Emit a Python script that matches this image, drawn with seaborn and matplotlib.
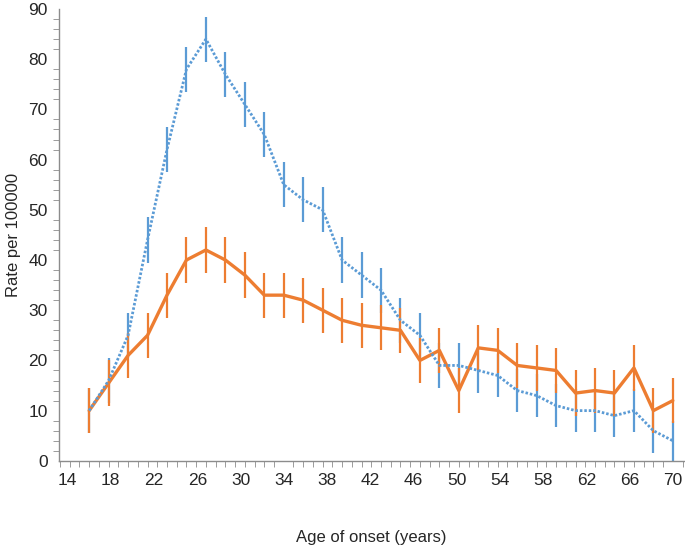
import matplotlib
matplotlib.use("Agg")
import matplotlib.pyplot as plt
import numpy as np
import pandas as pd
import seaborn as sns
from matplotlib.ticker import FixedLocator, MultipleLocator

# age of onset (points are 1.8 years apart)
ages = [16.0, 17.8, 19.6, 21.4, 23.2, 25.0, 26.8, 28.6, 30.4, 32.2, 34.0,
        35.8, 37.6, 39.4, 41.2, 43.0, 44.8, 46.6, 48.4, 50.2, 52.0, 53.8,
        55.6, 57.4, 59.2, 61.0, 62.8, 64.6, 66.4, 68.2, 70.0]

# blue dotted series
blue_rate = [10, 16, 25, 44, 62, 78, 84, 77, 71, 65, 55, 52, 50, 40, 37, 34,
             28, 25, 19, 19, 18, 17, 14, 13, 11, 10, 10, 9, 10, 6, 4]
blue_err = [4.5, 4.5, 4.5, 4.5, 4.5, 4.5, 4.5, 4.5, 4.5, 4.5, 4.5, 4.5, 4.5,
            4.5, 4.5, 4.5, 4.5, 4.5, 4.5, 4.5, 4.5, 4.3, 4.3, 4.3, 4.3, 4.3,
            4.3, 4.3, 4.3, 4.5, 4.0]

# orange solid series
orange_rate = [10, 15.5, 21, 25, 33, 40, 42, 40, 37, 33, 33, 32, 30, 28, 27,
               26.5, 26, 20, 22, 14, 22.5, 22, 19, 18.5, 18, 13.5, 14, 13.5,
               18.5, 10, 12]
orange_err = [4.5, 4.5, 4.5, 4.5, 4.5, 4.5, 4.5, 4.5, 4.5, 4.5, 4.5, 4.5,
              4.5, 4.5, 4.5, 4.5, 4.5, 4.5, 4.5, 4.5, 4.5, 4.5, 4.5, 4.5,
              4.5, 4.5, 4.5, 4.5, 4.5, 4.5, 4.5]

x_labels = [14, 18, 22, 26, 30, 34, 38, 42, 46, 50, 54, 58, 62, 66, 70]

BLUE = "#5B9BD5"
ORANGE = "#ED7D31"

sns.set_style("white")
plt.rcParams["font.family"] = ["Liberation Sans", "DejaVu Sans"]

df = pd.DataFrame({"age": ages, "blue": blue_rate, "orange": orange_rate})

fig = plt.figure(figsize=(6.85, 5.46), dpi=100)
ax = fig.add_axes([0.086, 0.156, 0.912, 0.8275])

ax.errorbar(ages, blue_rate, yerr=blue_err, fmt="none", ecolor=BLUE,
            elinewidth=1.6, capsize=0, zorder=2)
ax.errorbar(ages, orange_rate, yerr=orange_err, fmt="none", ecolor=ORANGE,
            elinewidth=1.6, capsize=0, zorder=3)
sns.lineplot(data=df, x="age", y="orange", ax=ax, color=ORANGE,
             linewidth=2.4, zorder=4)
sns.lineplot(data=df, x="age", y="blue", ax=ax, color=BLUE,
             linewidth=2.0, linestyle=(0, (0.9, 0.7)), zorder=5)

ax.set_xlim(13.2, 71.0)
ax.set_ylim(0, 90)
ax.set_xticks(x_labels)
ax.set_xticklabels([str(v) for v in x_labels])
ax.xaxis.set_minor_locator(FixedLocator(np.arange(13.3, 71.0, 0.9)))
ax.set_yticks(range(0, 91, 10))
ax.yaxis.set_minor_locator(MultipleLocator(2))

for side in ["top", "right"]:
    ax.spines[side].set_visible(False)
for side in ["left", "bottom"]:
    ax.spines[side].set_color("#8c8c8c")
    ax.spines[side].set_linewidth(1.0)

ax.tick_params(axis="x", which="major", length=0, pad=9, labelsize=12.5)
ax.tick_params(axis="x", which="minor", length=4, color="#8c8c8c", bottom=True)
ax.tick_params(axis="y", which="major", length=4, color="#8c8c8c", pad=4,
               labelsize=12.5)
ax.tick_params(axis="y", which="minor", length=4, color="#8c8c8c", left=True)

ax.set_xlabel("Age of onset (years)", fontsize=12, labelpad=30)
ax.set_ylabel("Rate per 100000", fontsize=12, labelpad=5)

fig.savefig("out.png", dpi=100)
